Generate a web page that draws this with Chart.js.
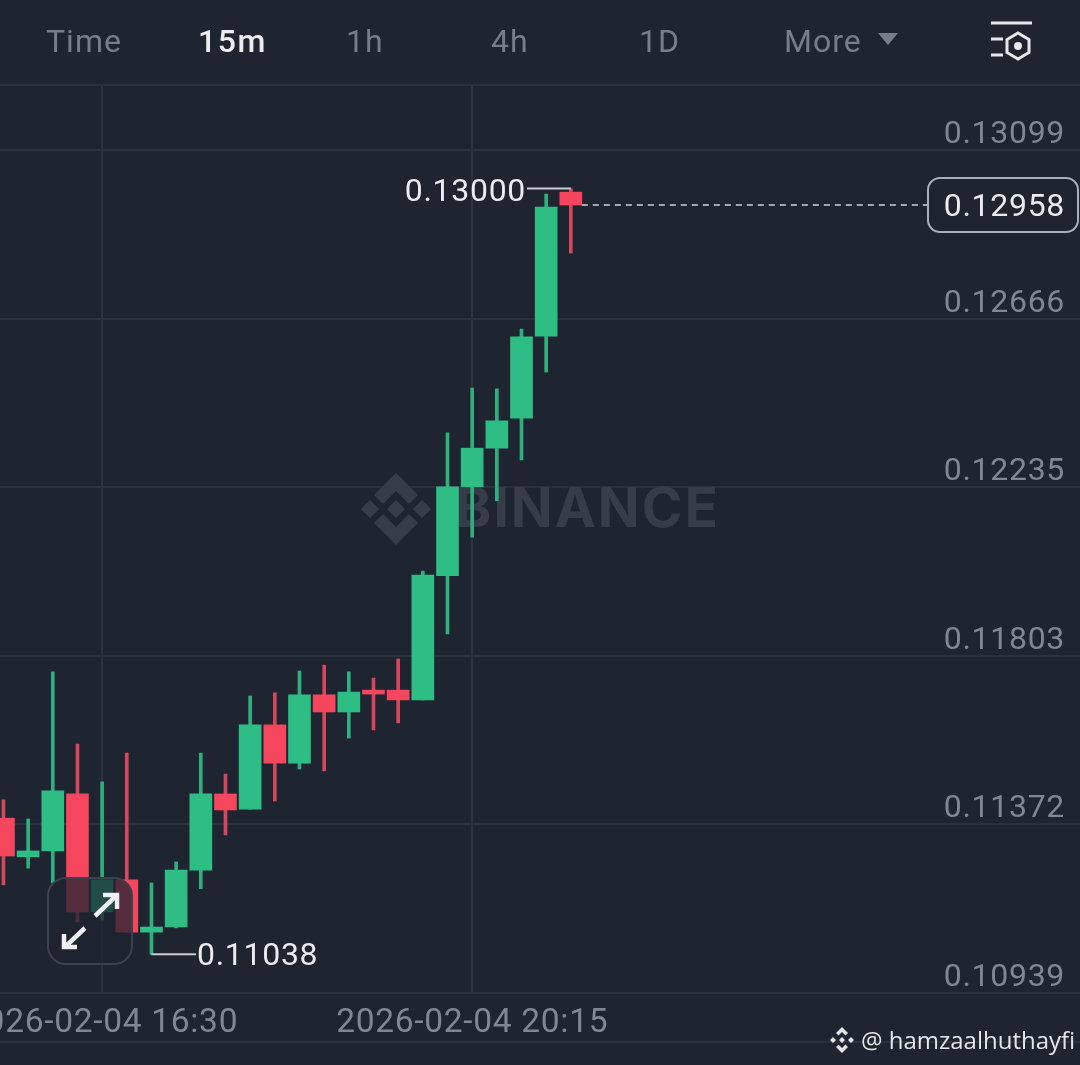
<!DOCTYPE html>
<html lang="en">
<head>
<meta charset="UTF-8">
<title>15m candles</title>
<script src="https://cdn.jsdelivr.net/npm/chart.js"></script>
<style>
  html, body { margin: 0; padding: 0; background: #1e2530; }
  body { width: 1080px; height: 1065px; position: relative; overflow: hidden; font-family: Roboto, sans-serif; }
  canvas { position: absolute; left: 0; top: 0; }
  .tab { position: absolute; top: 22px; font-size: 32px; line-height: 38px; letter-spacing: 1px; color: #767e8b; }
  .tab.active { color: #eaecef; font-weight: 500; letter-spacing: 1.5px; }
  .line { position: absolute; left: 0; width: 1080px; height: 2px; background: #2a313c; }
  .handle { position: absolute; left: 861px; top: 1023px; font: 24px "Open Sans", sans-serif; color: #e3e6ea; white-space: nowrap; }
  svg { position: absolute; }
</style>
</head>
<body>
<canvas id="chart" width="1080" height="1065"></canvas>
<div class="line" style="top:84px"></div>
<div class="line" style="top:1041px"></div>
<span class="tab" style="left:46px">Time</span>
<span class="tab active" style="left:198px">15m</span>
<span class="tab" style="left:346px">1h</span>
<span class="tab" style="left:491px">4h</span>
<span class="tab" style="left:639px">1D</span>
<span class="tab" style="left:784px">More</span>
<svg style="left:0;top:0" width="1080" height="85">
  <path d="M878 33h20l-10 12z" fill="#767e8b"/>
  <g stroke="#e6e8ec" stroke-width="3" fill="none">
    <path d="M991 23h41M991 39h12M991 55h12"/>
    <path d="M1018 33l11 6.5v13l-11 6.5l-11-6.5v-13z"/>
  </g>
  <circle cx="1018" cy="46" r="4" fill="#e6e8ec"/>
</svg>
<span class="handle">@ hamzaalhuthayfi</span>
<svg style="left:828px;top:1026px" width="28" height="28" viewBox="-14 -14 28 28" fill="#e3e6ea">
  <path d="M0-13l6 6l-2.5 2.5L0-8l-3.5 3.5L-6-7z M0 13l6-6l-2.5-2.5L0 8l-3.5-3.5L-6 7z M0-3l3 3l-3 3l-3-3z M-9-3l3 3l-3 3l-3-3z M9-3l3 3l-3 3l-3-3z"/>
</svg>
<script>
const times = ['15:30','15:45','16:00','16:15','16:30','16:45','17:00','17:15','17:30','17:45','18:00','18:15',
  '18:30','18:45','19:00','19:15','19:30','19:45','20:00','20:15','20:30','20:45','21:00','21:15'];
const opens = [0.11387,0.11288,0.11303,0.11449,0.11147,0.11229,0.11095,0.11108,0.11254,0.11449,0.11410,0.11626,
  0.11528,0.11703,0.11659,0.11715,0.11715,0.11690,0.12008,0.12236,0.12335,0.12412,0.12622,0.12991];
const closes = [0.11290,0.11303,0.11457,0.11147,0.11229,0.11095,0.11108,0.11254,0.11449,0.11408,0.11626,0.11528,
  0.11703,0.11659,0.11710,0.11705,0.11690,0.12010,0.12236,0.12335,0.12405,0.12620,0.12953,0.12958];
const highs = [0.11434,0.11385,0.11762,0.11577,0.11480,0.11554,0.11221,0.11275,0.11554,0.11500,0.11700,0.11708,
  0.11764,0.11779,0.11762,0.11746,0.11795,0.12020,0.12374,0.12489,0.12487,0.12640,0.12986,0.13000];
const lows = [0.11216,0.11259,0.11221,0.11121,0.11126,0.11095,0.11038,0.11106,0.11206,0.11344,0.11410,0.11431,
  0.11513,0.11508,0.11592,0.11613,0.11631,0.11690,0.11859,0.12107,0.12200,0.12305,0.12530,0.12835];
const yTicks = [0.13099,0.12666,0.12235,0.11803,0.11372,0.10939];
const xTicks = [4,19];
const lastPrice = 0.12958, highPrice = 0.13000, lowPrice = 0.11038;
const highIndex = 23, lowIndex = 6;

const up = '#2ebd85', down = '#f6465d';
const upWick = '#2fae7e', downWick = '#d5475e';
const isUp = opens.map((o, i) => closes[i] >= o);
const labelFont = '32px Roboto, sans-serif';

function diamond(ctx, x, y, r) {
  ctx.beginPath();
  ctx.moveTo(x, y - r); ctx.lineTo(x + r, y); ctx.lineTo(x, y + r); ctx.lineTo(x - r, y);
  ctx.closePath(); ctx.fill();
}
function chevron(ctx, x, y, dir) {
  // one half of the logo, dir -1 top, 1 bottom
  ctx.beginPath();
  ctx.moveTo(x, y + dir * 36);
  ctx.lineTo(x + 22, y + dir * 14);
  ctx.lineTo(x + 13, y + dir * 5 );
  ctx.lineTo(x, y + dir * 18);
  ctx.lineTo(x - 13, y + dir * 5);
  ctx.lineTo(x - 22, y + dir * 14);
  ctx.closePath(); ctx.fill();
}

// a little extra width on the digits
const spacing = {
  id: 'spacing',
  beforeDraw(chart) { chart.ctx.letterSpacing = '0.7px'; }
};

// watermark sits under the candles
const watermark = {
  id: 'watermark',
  beforeDatasetsDraw(chart) {
    const ctx = chart.ctx;
    ctx.save();
    ctx.fillStyle = '#363d49';
    chevron(ctx, 396, 509, -1);
    chevron(ctx, 396, 509, 1);
    diamond(ctx, 396, 509, 9);
    diamond(ctx, 370, 509, 9);
    diamond(ctx, 422, 509, 9);
    ctx.font = 'bold 55px Inter, sans-serif';
    ctx.letterSpacing = '2px';
    ctx.textBaseline = 'middle';
    ctx.fillText('BINANCE', 455, 510);
    ctx.restore();
  }
};

// price markers, expand button
const overlay = {
  id: 'overlay',
  afterDatasetsDraw(chart) {
    const ctx = chart.ctx, x = chart.scales.x, y = chart.scales.y;
    ctx.save();
    ctx.font = labelFont;
    ctx.textBaseline = 'middle';

    // last price line and box
    const py = y.getPixelForValue(lastPrice);
    ctx.strokeStyle = '#cfd3d9';
    ctx.lineWidth = 1.5;
    ctx.setLineDash([6, 5]);
    ctx.beginPath(); ctx.moveTo(x.getPixelForValue(highIndex) + 11, py); ctx.lineTo(927, py); ctx.stroke();
    ctx.setLineDash([]);
    ctx.beginPath(); ctx.roundRect(928, py - 27, 150, 54, 12);
    ctx.fillStyle = '#1e2530'; ctx.fill();
    ctx.strokeStyle = '#aab0b9'; ctx.lineWidth = 2; ctx.stroke();
    ctx.fillStyle = '#eaecef';
    ctx.textAlign = 'right';
    ctx.fillText(lastPrice.toFixed(5), 1065, py + 3);

    // high marker
    const hx = x.getPixelForValue(highIndex), hy = y.getPixelForValue(highPrice);
    ctx.strokeStyle = '#c9cdd3'; ctx.lineWidth = 2;
    ctx.beginPath(); ctx.moveTo(527, hy); ctx.lineTo(hx, hy); ctx.stroke();
    ctx.fillStyle = '#eaecef';
    ctx.fillText(highPrice.toFixed(5), 526, hy + 4);

    // low marker
    const lx = x.getPixelForValue(lowIndex), ly = y.getPixelForValue(lowPrice);
    ctx.beginPath(); ctx.moveTo(lx, ly); ctx.lineTo(196, ly); ctx.stroke();
    ctx.textAlign = 'left';
    ctx.fillText(lowPrice.toFixed(5), 197, ly + 3);

    // expand button
    ctx.beginPath(); ctx.roundRect(48, 878, 84, 86, 18);
    ctx.fillStyle = 'rgba(30,37,48,0.74)'; ctx.fill();
    ctx.strokeStyle = '#3a424e'; ctx.lineWidth = 2; ctx.stroke();
    ctx.strokeStyle = '#eef0f3'; ctx.lineWidth = 4.5;
    ctx.beginPath();
    ctx.moveTo(95, 916); ctx.lineTo(116, 896); ctx.moveTo(103, 895); ctx.lineTo(117, 895); ctx.lineTo(117, 909);
    ctx.moveTo(85, 928); ctx.lineTo(65, 947); ctx.moveTo(64, 934); ctx.lineTo(64, 947); ctx.lineTo(77, 947);
    ctx.stroke();
    ctx.restore();
  }
};

new Chart(document.getElementById('chart'), {
  type: 'bar',
  data: {
    datasets: [
      {
        label: 'wick',
        data: lows.map((l, i) => ({ x: i, y: [l, highs[i]] })),
        backgroundColor: isUp.map(u => u ? upWick : downWick),
        barThickness: 3,
        grouped: false,
        order: 2
      },
      {
        label: 'body',
        data: opens.map((o, i) => ({ x: i, y: [o, closes[i]] })),
        backgroundColor: isUp.map(u => u ? up : down),
        barThickness: 22,
        minBarLength: 3,
        grouped: false,
        order: 1
      }
    ]
  },
  options: {
    responsive: false,
    animation: false,
    events: [],
    layout: { padding: { top: 85 } },
    plugins: { legend: { display: false }, tooltip: { enabled: false } },
    scales: {
      x: {
        type: 'linear',
        bounds: 'data',
        offset: false,
        min: -0.14,
        max: 43.64,
        afterBuildTicks: s => { s.ticks = xTicks.map(v => ({ value: v })); },
        afterFit: s => { s.height = 72; s.paddingLeft = 0; s.paddingRight = 0; },
        grid: { offset: false, color: '#2b323d', lineWidth: 2, drawTicks: false },
        border: { display: false },
        ticks: {
          autoSkip: false,
          maxRotation: 0,
          padding: 11,
          color: '#7f8794',
          font: { family: 'Roboto', size: 33.5 },
          callback: v => '2026-02-04 ' + times[v]
        }
      },
      y: {
        position: 'right',
        bounds: 'data',
        min: 0.10939,
        max: 0.132655,
        afterBuildTicks: s => { s.ticks = yTicks.map(v => ({ value: v })); },
        afterFit: s => { s.width = 0; },
        grid: { color: '#2b323d', lineWidth: 2, drawTicks: false },
        border: { display: false },
        ticks: {
          mirror: true,
          padding: -15,
          labelOffset: -15,
          color: '#7f8794',
          font: { family: 'Roboto', size: 32 },
          callback: v => v.toFixed(5)
        }
      }
    }
  },
  plugins: [spacing, watermark, overlay]
});
</script>
</body>
</html>
